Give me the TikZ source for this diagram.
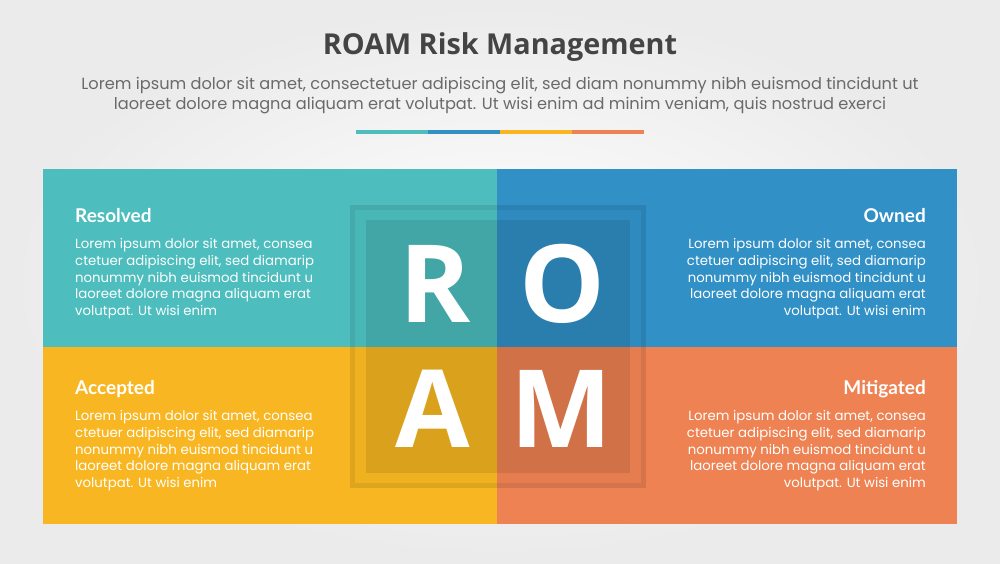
\documentclass[tikz,border=0pt]{standalone}
\usepackage{fontspec}
\setmainfont{Poppins}
\newfontfamily\titlefont{Open Sans}
\newfontfamily\headfont{Lato}
\usetikzlibrary{positioning}

\definecolor{roamTeal}{HTML}{4DBDBD}
\definecolor{roamBlue}{HTML}{3190C6}
\definecolor{roamYellow}{HTML}{F8B722}
\definecolor{roamOrange}{HTML}{EE8253}
\definecolor{titleGray}{HTML}{444444}
\definecolor{subGray}{HTML}{6A6A6A}

\def \loremText {Lorem ipsum dolor sit amet, consea\\ctetuer adipiscing elit, sed diamarip\\nonummy nibh euismod tincidunt u\\laoreet dolore magna aliquam erat\\volutpat. Ut wisi enim}

\begin{document}
\begin{tikzpicture}[x=1pt,y=-1pt,
    panel/.style={fill=#1, draw=none},
    bar/.style={line width=4pt, draw=#1},
    head/.style={inner sep=0pt, text=white, font=\headfont\bfseries\fontsize{19}{21}\selectfont},
    body/.style={inner sep=0pt, text=white, font=\fontsize{13.3}{16.6}\selectfont},
    letter/.style={inner sep=0pt, text=white, font=\titlefont\bfseries\fontsize{108}{110}\selectfont}]
      \useasboundingbox (0,0) rectangle (1000,563);
      % background
      \shade[inner color=white, outer color=black!8] (0,0) rectangle (1000,563);

      % title and subtitle
      \node[font=\titlefont\bfseries\fontsize{28.8}{30}\selectfont, text=titleGray] (title) at (500,47) {ROAM Risk Management};
      \node[font=\fontsize{16.2}{20}\selectfont, text=subGray, align=center] (subtitle) at (500,96)
         {Lorem ipsum dolor sit amet, consectetuer adipiscing elit, sed diam nonummy nibh euismod tincidunt ut\\
          laoreet dolore magna aliquam erat volutpat. Ut wisi enim ad minim veniam, quis nostrud exerci};
      \coordinate (barA) at (356,132);
      \coordinate (barB) at (428,132);
      \coordinate (barC) at (500,132);
      \coordinate (barD) at (572,132);
      \coordinate (barE) at (644,132);
      \draw[bar=roamTeal] (barA) -- (barB);
      \draw[bar=roamBlue] (barB) -- (barC);
      \draw[bar=roamYellow] (barC) -- (barD);
      \draw[bar=roamOrange] (barD) -- (barE);

      % four panels
      \fill[panel=roamTeal] (43,169) rectangle (497,347);
      \fill[panel=roamBlue] (497,169) rectangle (957,347);
      \fill[panel=roamYellow] (43,347) rectangle (497,524);
      \fill[panel=roamOrange] (497,347) rectangle (957,524);

      % centre frame
      \fill[black, opacity=0.03] (350,205) rectangle (646,488);
      \draw[black, opacity=0.07, line width=5pt] (352.5,207.5) rectangle (643.5,485.5);
      \fill[black, opacity=0.09] (366,220) rectangle (630,473);
      \node[letter] (letR) at (435,284) {R};
      \node[letter] (letO) at (562,284) {O};
      \node[letter] (letA) at (433,409) {A};
      \node[letter] (letM) at (561,409) {M};

      % texts
      \node[head, anchor=north west] (resolved) at (75,208) {Resolved};
      \node[body, anchor=north west, align=left] (resolvedText) at (75,238.5) {\loremText};
      \node[head, anchor=north east] (owned) at (926,208) {Owned};
      \node[body, anchor=north east, align=right] (ownedText) at (926,238.5) {\loremText};
      \node[head, anchor=north west] (accepted) at (75,380) {Accepted};
      \node[body, anchor=north west, align=left] (acceptedText) at (75,410.5) {\loremText};
      \node[head, anchor=north east] (mitigated) at (926,380) {Mitigated};
      \node[body, anchor=north east, align=right] (mitigatedText) at (926,410.5) {\loremText};
   \end{tikzpicture}
\end{document}
